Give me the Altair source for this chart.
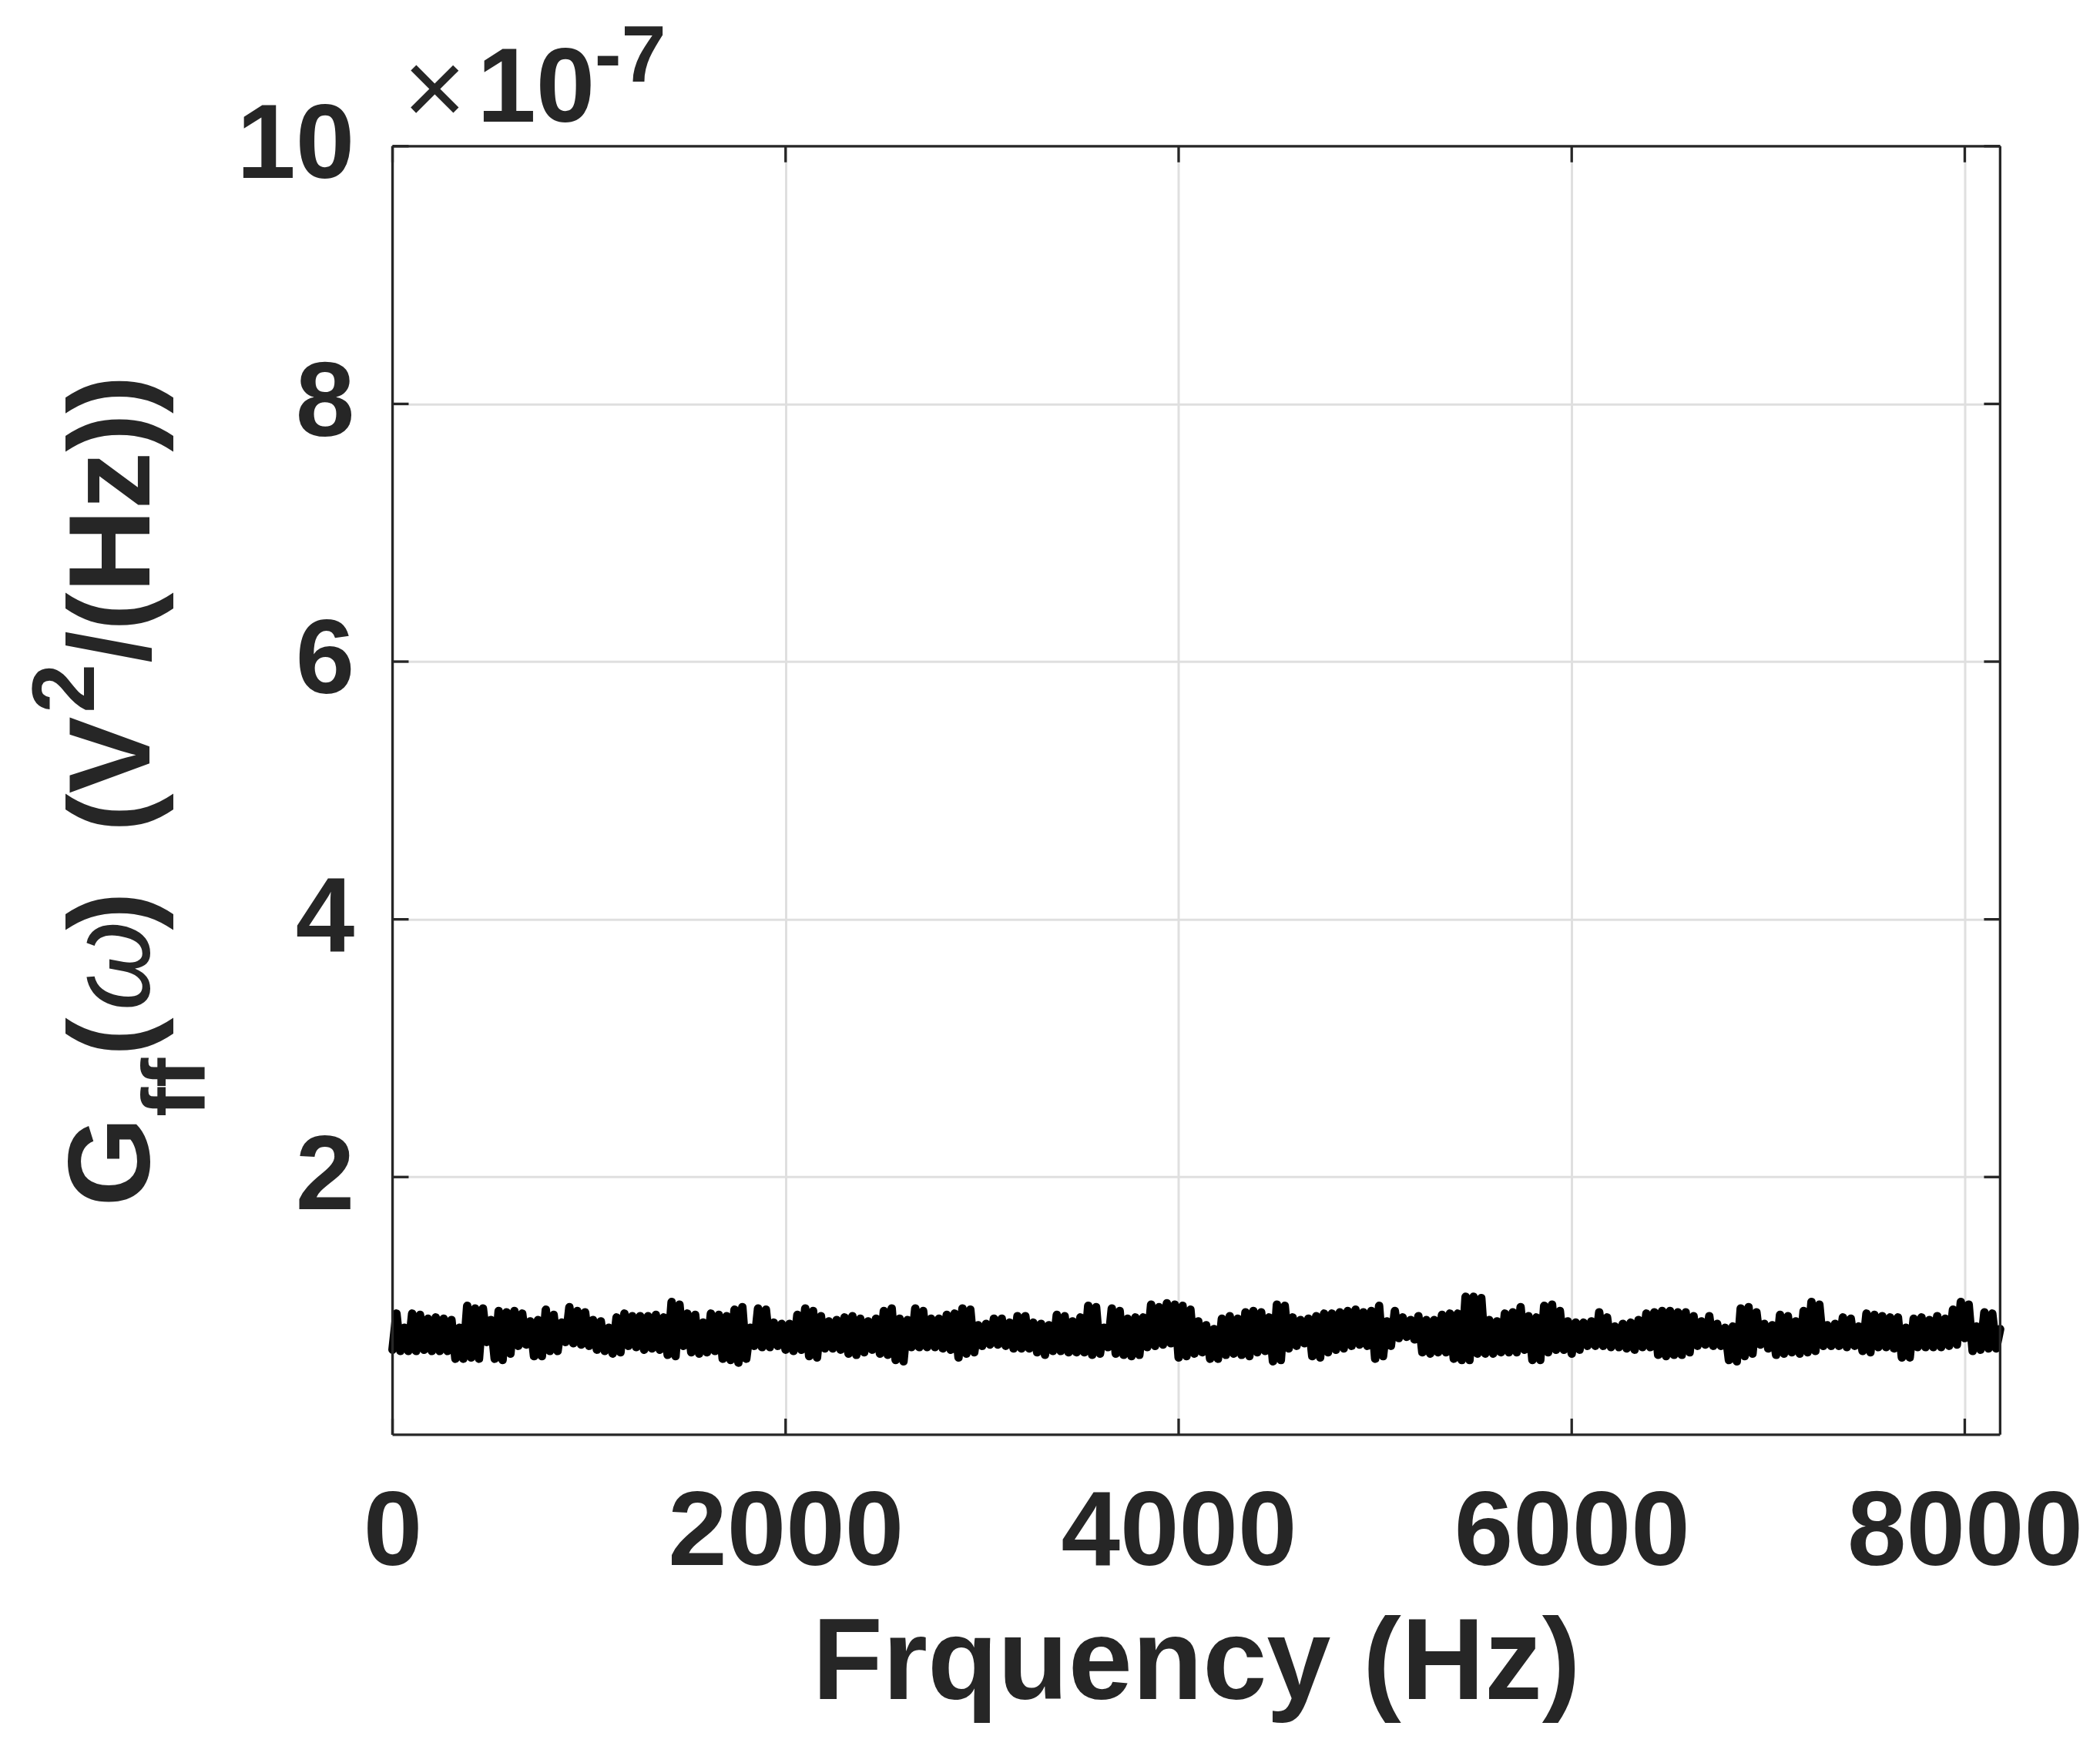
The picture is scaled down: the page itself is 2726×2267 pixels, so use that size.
import altair as alt
import pandas as pd

# Spectrum (values in units of 1e-7 V^2/Hz)
# troughs at 0, 40, 80 ... Hz ; peaks at 20, 60, 100 ... Hz
trough_vals = [
    0.66,0.65,0.65,0.65,0.66,0.65,0.65,0.65,0.59,0.59,
    0.60,0.59,0.72,0.59,0.58,0.63,0.69,0.70,0.61,0.61,
    0.65,0.65,0.72,0.71,0.70,0.69,0.66,0.65,0.63,0.64,
    0.69,0.68,0.66,0.67,0.66,0.62,0.61,0.69,0.64,0.63,
    0.64,0.65,0.59,0.58,0.56,0.59,0.69,0.68,0.68,0.69,
    0.66,0.65,0.66,0.61,0.60,0.67,0.67,0.66,0.63,0.62,
    0.64,0.66,0.63,0.62,0.58,0.57,0.68,0.68,0.68,0.68,
    0.67,0.66,0.60,0.63,0.64,0.69,0.70,0.70,0.69,0.67,
    0.67,0.67,0.64,0.62,0.65,0.65,0.64,0.64,0.64,0.62,
    0.63,0.68,0.63,0.62,0.61,0.62,0.68,0.69,0.70,0.71,
    0.60,0.61,0.63,0.64,0.59,0.59,0.62,0.63,0.62,0.61,
    0.64,0.65,0.57,0.58,0.67,0.69,0.71,0.61,0.60,0.64,
    0.66,0.67,0.69,0.70,0.69,0.59,0.61,0.69,0.75,0.76,
    0.74,0.64,0.63,0.64,0.64,0.59,0.58,0.58,0.63,0.63,
    0.63,0.64,0.64,0.64,0.66,0.58,0.58,0.64,0.66,0.66,
    0.63,0.66,0.69,0.69,0.69,0.68,0.68,0.67,0.66,0.68,
    0.68,0.62,0.61,0.62,0.62,0.64,0.69,0.70,0.69,0.69,
    0.58,0.57,0.61,0.63,0.70,0.67,0.62,0.63,0.64,0.63,
    0.64,0.65,0.69,0.69,0.69,0.68,0.69,0.65,0.64,0.68,
    0.68,0.67,0.60,0.60,0.68,0.68,0.68,0.68,0.69,0.70,
    0.75,0.65,0.66,0.67,0.67,
]
peak_vals = [
    0.94,0.83,0.94,0.93,0.90,0.91,0.90,0.89,0.83,1.00,
    0.98,0.98,0.89,0.96,0.95,0.96,0.94,0.88,0.89,0.97,
    0.93,0.87,0.99,0.96,0.95,0.89,0.88,0.83,0.91,0.94,
    0.92,0.92,0.92,0.93,0.91,1.03,1.01,0.94,0.93,0.87,
    0.94,0.93,0.92,0.97,0.99,0.83,0.98,0.97,0.87,0.86,
    0.86,0.93,0.98,0.96,0.92,0.88,0.89,0.91,0.92,0.90,
    0.88,0.90,0.96,0.98,0.90,0.89,0.98,0.96,0.90,0.90,
    0.93,0.94,0.98,0.97,0.85,0.86,0.90,0.90,0.87,0.92,
    0.92,0.87,0.86,0.85,0.93,0.92,0.88,0.91,1.00,0.99,
    0.83,0.98,0.96,0.90,0.91,0.91,1.01,0.99,1.02,1.01,
    1.00,0.97,0.88,0.85,0.82,0.90,0.92,0.90,0.95,0.96,
    0.95,0.91,1.01,1.00,0.91,0.89,0.90,0.92,0.94,0.94,
    0.95,0.96,0.97,0.95,0.96,1.00,0.88,0.96,0.91,0.89,
    0.92,0.89,0.89,0.93,0.94,0.94,1.07,1.07,1.06,0.89,
    0.88,0.94,0.95,0.99,0.92,0.91,1.00,1.01,0.96,0.88,
    0.87,0.87,0.88,0.95,0.91,0.84,0.86,0.87,0.89,0.94,
    0.95,0.96,0.96,0.95,0.95,0.92,0.88,0.92,0.86,0.83,
    0.84,0.98,0.99,0.95,0.86,0.85,0.93,0.92,0.88,0.96,
    1.03,1.01,0.85,0.86,0.91,0.90,0.84,0.94,0.93,0.92,
    0.91,0.91,0.83,0.90,0.91,0.89,0.92,0.90,0.97,1.03,
    1.01,0.84,0.95,0.94,0.82,
]

x_ticks = [0, 2000, 4000, 6000, 8000]
y_ticks = [2, 4, 6, 8, 10]
x_domain = [0, 8180]
y_domain = [0, 10]

freq, gff = [], []
for k in range(len(trough_vals)):
    freq += [40 * k, 40 * k + 20]
    gff += [trough_vals[k], peak_vals[k]]
df = pd.DataFrame({"freq": freq, "gff": gff})

W, H = 2093, 1678
INK = "#262626"
FONT = "Liberation Sans"

xscale = alt.Scale(domain=x_domain, nice=False, zero=False)
yscale = alt.Scale(domain=y_domain, nice=False, zero=False)

x_axis = alt.Axis(
    values=x_ticks, format="d", title=None, grid=True, gridColor="#dfdfdf",
    gridWidth=3, domain=False, ticks=False, tickSize=0, labelFont=FONT,
    labelFontSize=138, labelFontWeight="bold", labelColor=INK, labelPadding=60,
    labelFlush=False, labelOverlap=False, labelLimit=0)
y_axis = alt.Axis(
    values=y_ticks, format="d", title=None, grid=True, gridColor="#dfdfdf",
    gridWidth=3, domain=False, ticks=False, tickSize=0, labelFont=FONT,
    labelFontSize=138, labelFontWeight="bold", labelColor=INK, labelPadding=50,
    labelFlush=False, labelOverlap=False, labelLimit=0)

line = alt.Chart(df).mark_line(
    color="black", strokeWidth=11, strokeJoin="round", strokeCap="round"
).encode(
    x=alt.X("freq:Q", scale=xscale, axis=x_axis),
    y=alt.Y("gff:Q", scale=yscale, axis=y_axis),
)

xt = pd.DataFrame({"freq": x_ticks})
yt = pd.DataFrame({"gff": y_ticks})
tick_style = dict(color=INK, strokeWidth=3.3)
xt_bottom = alt.Chart(xt).mark_rule(**tick_style).encode(
    x=alt.X("freq:Q", scale=xscale, axis=x_axis), y=alt.value(H), y2=alt.value(H - 21))
xt_top = alt.Chart(xt).mark_rule(**tick_style).encode(
    x=alt.X("freq:Q", scale=xscale, axis=x_axis), y=alt.value(0), y2=alt.value(21))
yt_left = alt.Chart(yt).mark_rule(**tick_style).encode(
    y=alt.Y("gff:Q", scale=yscale, axis=y_axis), x=alt.value(0), x2=alt.value(21))
yt_right = alt.Chart(yt).mark_rule(**tick_style).encode(
    y=alt.Y("gff:Q", scale=yscale, axis=y_axis), x=alt.value(W), x2=alt.value(W - 21))

# axes box (frame on all four sides)
frame = [
    alt.Chart(pd.DataFrame({"s": [0]})).mark_rule(**tick_style).encode(
        x=alt.value(0), x2=alt.value(W), y=alt.value(0)),
    alt.Chart(pd.DataFrame({"s": [0]})).mark_rule(**tick_style).encode(
        x=alt.value(0), x2=alt.value(W), y=alt.value(H)),
    alt.Chart(pd.DataFrame({"s": [0]})).mark_rule(**tick_style).encode(
        x=alt.value(0), y=alt.value(0), y2=alt.value(H)),
    alt.Chart(pd.DataFrame({"s": [0]})).mark_rule(**tick_style).encode(
        x=alt.value(W), y=alt.value(0), y2=alt.value(H)),
]


def label(txt, x, y, size, weight="bold", style="normal", angle=0, align="left"):
    return alt.Chart(pd.DataFrame({"t": [txt]})).mark_text(
        font=FONT, fontSize=size, fontWeight=weight, fontStyle=style, color=INK,
        angle=angle, align=align, baseline="alphabetic"
    ).encode(text="t:N", x=alt.value(x), y=alt.value(y))


texts = [
    # x axis title
    label("Frquency (Hz)", W / 2, 2022, 150, align="center"),
    # exponent label
    label("\u00d7", 14, -28, 140, weight="normal"),
    label("10", 110, -32, 138),
    label("-7", 263, -84, 105),
    # y axis title pieces (rotated)
    label("G", -316, 1381, 150, angle=270),
    label("ff", -244, 1264, 115, angle=270),
    label("(", -316, 1185, 150, angle=270),
    label("\u03c9", -316, 1126, 150, weight="normal", style="italic", angle=270),
    label(")", -316, 1021, 150, angle=270),
    label("(V", -316, 893, 150, angle=270),
    label("2", -389, 738, 115, angle=270),
    label("/(Hz))", -316, 673, 150, angle=270),
]

chart = alt.layer(
    line, xt_bottom, xt_top, yt_left, yt_right, *frame, *texts
).properties(
    width=W, height=H,
    padding={"left": 503, "top": 179, "right": 122, "bottom": 402},
    autosize=alt.AutoSizeParams(type="none"),
    background="white",
).configure_view(
    strokeWidth=0
)

chart.save("out.html", embed_options={"renderer": "svg", "actions": False})
